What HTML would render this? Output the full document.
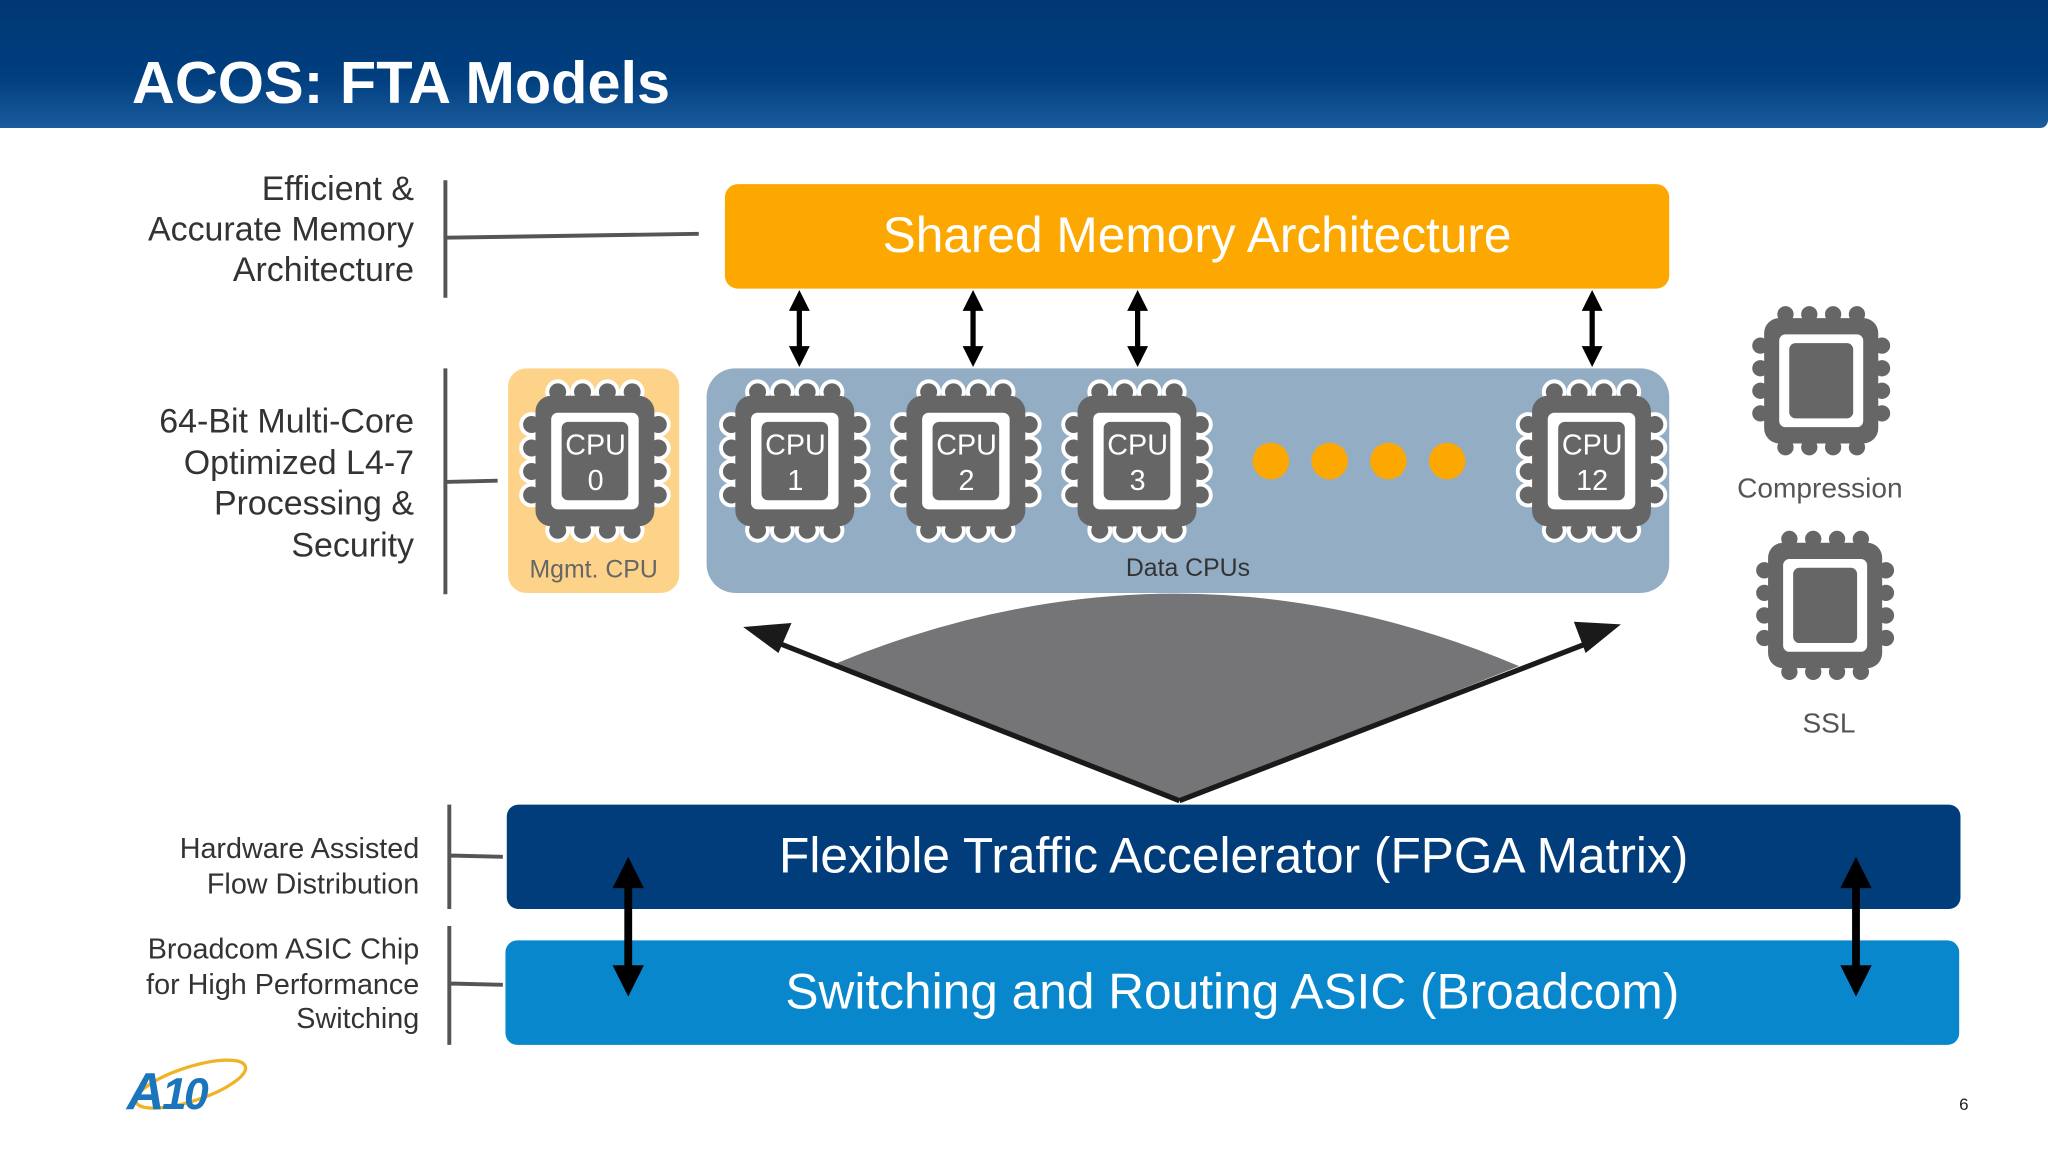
<!DOCTYPE html>
<html><head><meta charset="utf-8"><style>
html,body{margin:0;padding:0;background:#fff;width:2048px;height:1152px;overflow:hidden}
#s{position:absolute;left:0;top:0;width:1568px;height:882px;transform:scale(1.306122);transform-origin:0 0;font-family:"Liberation Sans",sans-serif}
.a{position:absolute}
.lbl{position:absolute;text-align:right;color:#333;font-size:26px;line-height:31px}
.lbl2{position:absolute;text-align:right;color:#333;font-size:22px;line-height:26.5px}
</style></head><body><div id="s">
<div class="a" style="left:0;top:0;width:1568px;height:98px;background:linear-gradient(#003874,#003e7e 60%,#1a5c9e);border-bottom-right-radius:6px"></div>
<div class="a" style="left:101px;top:38px;color:#fff;font-weight:bold;font-size:45.5px">ACOS: FTA Models</div>

<div class="lbl" style="right:1251px;top:129px;width:280px">Efficient &amp;<br>Accurate Memory<br>Architecture</div>
<div class="lbl" style="right:1251px;top:307px;width:280px;line-height:31.5px">64-Bit Multi-Core<br>Optimized L4-7<br>Processing &amp;<br>Security</div>
<div class="lbl2" style="right:1247px;top:637px;width:280px">Hardware Assisted<br>Flow Distribution</div>
<div class="lbl2" style="right:1247px;top:714px;width:280px">Broadcom ASIC Chip<br>for High Performance<br>Switching</div>

<div class="a" style="left:555px;top:141px;width:723px;height:80px;background:#fca800;border-radius:10px;color:#fff;font-size:38px;text-align:center;line-height:80px">Shared Memory Architecture</div>
<div class="a" style="left:389px;top:282px;width:131px;height:172px;background:#fdd38a;border-radius:14px"></div>
<div class="a" style="left:389px;top:426px;width:131px;text-align:center;color:#666;font-size:19px">Mgmt. CPU</div>
<div class="a" style="left:541px;top:282px;width:737px;height:172px;background:#93adc5;border-radius:22px"></div>
<div class="a" style="left:541px;top:425px;width:737px;text-align:center;color:#333;font-size:19px">Data CPUs</div>

<div class="a" style="left:388px;top:616px;width:1113px;height:80px;background:#003d7a;border-radius:9px;color:#fff;font-size:38px;text-align:center;line-height:80px">Flexible Traffic Accelerator (FPGA Matrix)</div>
<div class="a" style="left:387px;top:720px;width:1113px;height:80px;background:#0887cc;border-radius:9px;color:#fff;font-size:38px;text-align:center;line-height:80px">Switching and Routing ASIC (Broadcom)</div>

<div class="a" style="left:1330px;top:362px;color:#555;font-size:21.5px">Compression</div>
<div class="a" style="left:1380px;top:542px;color:#555;font-size:21.5px">SSL</div>
<div class="a" style="left:1500px;top:838px;color:#222;font-size:13px">6</div>

<svg class="a" style="left:0;top:0" width="1568" height="882">
<defs>
<g id="chip">
<g fill="#666" stroke="#fff" stroke-width="3">
<circle cx="25" cy="9" r="8"/><circle cx="44" cy="9" r="8"/><circle cx="63" cy="9" r="8"/><circle cx="82" cy="9" r="8"/>
<circle cx="25" cy="115" r="8"/><circle cx="44" cy="115" r="8"/><circle cx="63" cy="115" r="8"/><circle cx="82" cy="115" r="8"/>
<circle cx="5" cy="34" r="8"/><circle cx="5" cy="52" r="8"/><circle cx="5" cy="70" r="8"/><circle cx="5" cy="88" r="8"/>
<circle cx="102" cy="34" r="8"/><circle cx="102" cy="52" r="8"/><circle cx="102" cy="70" r="8"/><circle cx="102" cy="88" r="8"/>
</g>
<rect x="8" y="12" width="91" height="100" rx="12" fill="#666"/>
<rect x="20" y="25" width="67" height="74" rx="5" fill="#fff"/>
<rect x="28" y="32" width="51" height="60" rx="5" fill="#666"/>
</g>
</defs>
<g stroke="#555" stroke-width="3" fill="none">
<path d="M341 138V228M341 182L535 179"/>
<path d="M341 282V455M341 369L381 368"/>
<path d="M344 616V696M344 655L385 656"/>
<path d="M344 709V800M344 753L385 754"/>
</g>
<path d="M903 613L640 508Q903 400 1163 510Z" fill="#757477"/>
<g stroke="#1a1a1a" stroke-width="4"><line x1="903" y1="613" x2="590" y2="490"/><line x1="903" y1="613" x2="1222" y2="490"/></g>
<polygon points="569,480 606,477 596,500" fill="#1a1a1a"/>
<polygon points="1241,478 1205,476 1214,500" fill="#1a1a1a"/>
<g fill="#000" stroke="#000">
<g id="dar"><line x1="612" y1="232" x2="612" y2="270" stroke-width="4"/><polygon points="612,222 604,238 620,238" stroke="none"/><polygon points="612,281 604,265 620,265" stroke="none"/></g>
<use href="#dar" x="133"/><use href="#dar" x="259"/><use href="#dar" x="607"/>
<line x1="481" y1="672" x2="481" y2="744" stroke-width="6"/><polygon points="481,656 469,680 493,680" stroke="none"/><polygon points="481,763 469,739 493,739" stroke="none"/>
<line x1="1421" y1="672" x2="1421" y2="744" stroke-width="6"/><polygon points="1421,656 1409,680 1433,680" stroke="none"/><polygon points="1421,763 1409,739 1433,739" stroke="none"/>
</g>
<use href="#chip" x="402" y="291"/><use href="#chip" x="555" y="291"/><use href="#chip" x="686" y="291"/><use href="#chip" x="817" y="291"/><use href="#chip" x="1165" y="291"/>
<g font-family="Liberation Sans, sans-serif" font-size="22" fill="#fff" text-anchor="middle">
<text x="456" y="348">CPU</text><text x="456" y="375">0</text>
<text x="609" y="348">CPU</text><text x="609" y="375">1</text>
<text x="740" y="348">CPU</text><text x="740" y="375">2</text>
<text x="871" y="348">CPU</text><text x="871" y="375">3</text>
<text x="1219" y="348">CPU</text><text x="1219" y="375">12</text>
</g>
<g fill="#fca800"><circle cx="973" cy="353" r="14"/><circle cx="1018" cy="353" r="14"/><circle cx="1063" cy="353" r="14"/><circle cx="1108" cy="353" r="14"/></g>
<g transform="translate(1343,232) scale(0.96,0.96)"><use href="#chip"/></g>
<g transform="translate(1346,404) scale(0.96,0.96)"><use href="#chip"/></g>
<g font-family="Liberation Sans, sans-serif" font-weight="bold" font-style="italic">
<ellipse cx="146" cy="830" rx="44" ry="13" fill="none" stroke="#f0b323" stroke-width="2.5" transform="rotate(-18 146 830)"/>
<text x="97" y="849" font-size="40" fill="#1b75bc" letter-spacing="-3">A</text>
<text x="124" y="849" font-size="34" fill="#1b75bc" letter-spacing="-2">10</text>
</g>
</svg>
</div></body></html>
